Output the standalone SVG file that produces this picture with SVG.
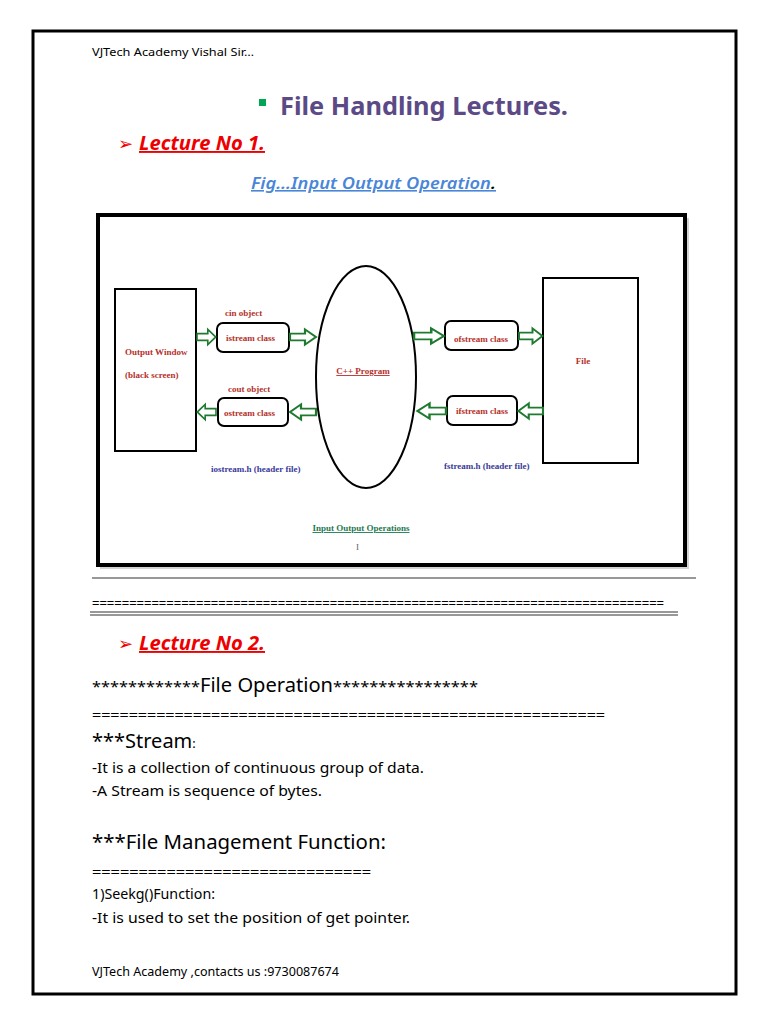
<svg xmlns="http://www.w3.org/2000/svg" xmlns:xlink="http://www.w3.org/1999/xlink" width="768" height="1024" viewBox="0 0 768 1024">
<style>
.c{font-family:"Liberation Serif",serif;font-weight:bold;font-size:9px;fill:#b5302a}
.b{font-family:"Liberation Serif",serif;font-weight:bold;font-size:9px;fill:#3a3a9a}
.t{font-family:"Noto Sans","Open Sans",sans-serif;fill:#000}
.box{fill:#fff;stroke:#000;stroke-width:2}
.arr{fill:#fff;stroke:#1e7a2e;stroke-width:2.2;stroke-linejoin:miter}
.eq{font-family:"Liberation Sans",sans-serif;fill:#000}
</style>
<defs>
<path id="ar" d="M0,-4 H15 V-9 L26,0 L15,9 V4 H0 Z"/>
</defs>
<rect width="768" height="1024" fill="#fff"/>
<rect x="33" y="31" width="703" height="963" fill="none" stroke="#000" stroke-width="3"/>
<text class="t" x="92" y="56" font-size="11" textLength="162" lengthAdjust="spacingAndGlyphs">VJTech Academy Vishal Sir…</text>
<rect x="259" y="99" width="7" height="7" fill="#00a651"/>
<text x="280" y="115" font-family="Noto Sans,sans-serif" font-weight="bold" font-size="25" fill="#5b4a86" textLength="288" lengthAdjust="spacingAndGlyphs">File Handling Lectures.</text>
<text x="118" y="150" font-family="Liberation Sans,sans-serif" font-size="18" fill="#e00">➢</text>
<text x="139" y="150" font-family="Noto Sans,sans-serif" font-weight="bold" font-style="italic" font-size="19" fill="#e00" text-decoration="underline" textLength="126" lengthAdjust="spacingAndGlyphs">Lecture No 1.</text>
<text x="251" y="189" font-family="Noto Sans,sans-serif" font-style="italic" font-weight="600" font-size="16" fill="#4a86d8" text-decoration="underline" textLength="245" lengthAdjust="spacingAndGlyphs">Fig…Input Output Operation<tspan fill="#000">.</tspan></text>
<rect x="100" y="218" width="589" height="351" fill="#aaa" opacity="0.5"/>
<rect x="98" y="215" width="587" height="350" fill="#fff" stroke="#000" stroke-width="4"/>
<g id="output-window"><rect class="box" x="115" y="289" width="81" height="162"/>
<text class="c" x="125" y="355">Output Window</text><text class="c" x="125" y="378">(black screen)</text></g>
<g id="istream"><rect class="box" x="217" y="323" width="72" height="29" rx="6"/><text class="c" x="226" y="341">istream class</text></g>
<text class="c" x="225" y="316">cin object</text>
<g id="ostream"><rect class="box" x="218" y="398" width="70" height="28" rx="6"/><text class="c" x="224" y="416">ostream class</text></g>
<text class="c" x="228" y="392">cout object</text>
<g id="program"><ellipse cx="366" cy="377" rx="50" ry="111" fill="#fff" stroke="#000" stroke-width="2"/>
<text class="c" x="363" y="374" text-anchor="middle" text-decoration="underline">C++ Program</text></g>
<g id="ofstream"><rect class="box" x="445" y="321" width="73" height="29" rx="6"/><text class="c" x="481" y="342" text-anchor="middle">ofstream class</text></g>
<g id="ifstream"><rect class="box" x="447" y="396" width="70" height="29" rx="6"/><text class="c" x="482" y="414" text-anchor="middle">ifstream class</text></g>
<g id="file"><rect class="box" x="543" y="278" width="95" height="185"/><text class="c" x="583" y="364" text-anchor="middle">File</text></g>
<g id="connectors">
<use href="#ar" class="arr" transform="translate(197,337) scale(0.72,0.85)"/>
<use href="#ar" class="arr" transform="translate(290,337) scale(1,0.85)"/>
<use href="#ar" class="arr" transform="translate(414,336) scale(1.15,0.85)"/>
<use href="#ar" class="arr" transform="translate(519,336) scale(0.9,0.85)"/>
<use href="#ar" class="arr" transform="translate(216,412) scale(-0.72,0.85)"/>
<use href="#ar" class="arr" transform="translate(316,412) scale(-1,0.85)"/>
<use href="#ar" class="arr" transform="translate(446,411) scale(-1.1,0.85)"/>
<use href="#ar" class="arr" transform="translate(543,411) scale(-0.95,0.85)"/>
</g>
<text class="b" x="211" y="472">iostream.h (header file)</text>
<text class="b" x="444" y="469">fstream.h (header file)</text>
<text x="361" y="531" text-anchor="middle" font-family="Liberation Serif,serif" font-weight="bold" font-size="9" fill="#1e7a4e" text-decoration="underline">Input Output Operations</text>
<text x="356" y="550" font-family="Liberation Serif,serif" font-size="9" fill="#666">I</text>
<line x1="92" y1="578" x2="696" y2="578" stroke="#333" stroke-width="1.2"/>
<text class="eq" x="92" y="607" font-size="10" textLength="572" lengthAdjust="spacingAndGlyphs">=============================================================================</text>
<line x1="90" y1="612" x2="678" y2="612" stroke="#333" stroke-width="1.2"/>
<line x1="90" y1="615" x2="678" y2="615" stroke="#333" stroke-width="1.2"/>
<text x="118" y="650" font-family="Liberation Sans,sans-serif" font-size="18" fill="#e00">➢</text>
<text x="139" y="650" font-family="Noto Sans,sans-serif" font-weight="bold" font-style="italic" font-size="19" fill="#e00" text-decoration="underline" textLength="126" lengthAdjust="spacingAndGlyphs">Lecture No 2.</text>
<text class="t" x="92" y="692" font-size="19"><tspan font-size="14" textLength="108" lengthAdjust="spacingAndGlyphs">************</tspan><tspan textLength="133" lengthAdjust="spacingAndGlyphs">File Operation</tspan><tspan font-size="14" textLength="145" lengthAdjust="spacingAndGlyphs">****************</tspan></text>
<text class="eq" x="92" y="719" font-size="13" textLength="513" lengthAdjust="spacingAndGlyphs">========================================================</text>
<text class="t" x="92" y="748" font-size="20">***Stream<tspan font-size="13">:</tspan></text>
<text class="t" x="92" y="773" font-size="15" textLength="332" lengthAdjust="spacingAndGlyphs">-It is a collection of continuous group of data.</text>
<text class="t" x="92" y="796" font-size="15" textLength="230" lengthAdjust="spacingAndGlyphs">-A Stream is sequence of bytes.</text>
<text class="t" x="92" y="849" font-size="20" textLength="294" lengthAdjust="spacingAndGlyphs">***File Management Function:</text>
<text class="eq" x="92" y="876" font-size="13" textLength="279" lengthAdjust="spacingAndGlyphs">==============================</text>
<text class="t" x="92" y="899" font-size="15" textLength="123" lengthAdjust="spacingAndGlyphs">1)Seekg()Function:</text>
<text class="t" x="92" y="923" font-size="15" textLength="318" lengthAdjust="spacingAndGlyphs">-It is used to set the position of get pointer.</text>
<text class="t" x="92" y="976" font-size="12" textLength="247" lengthAdjust="spacingAndGlyphs">VJTech Academy ,contacts us :9730087674</text>
</svg>
